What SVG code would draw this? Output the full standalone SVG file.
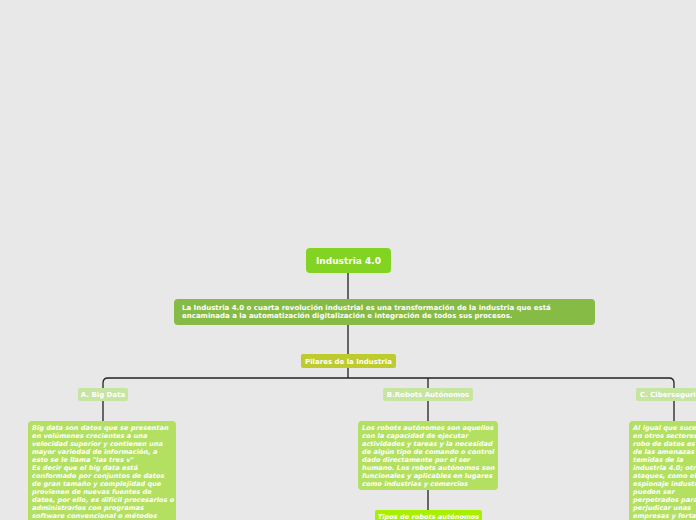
<svg xmlns="http://www.w3.org/2000/svg" width="696" height="520" viewBox="0 0 696 520">
<style>
text{font-family:"DejaVu Sans",Verdana,sans-serif;font-weight:bold;fill:#fff}
.s{font-size:7px}
.i{font-size:6.6px;font-style:italic}
.c{stroke:#222;stroke-width:1.3;fill:none}
</style>
<rect width="696" height="520" fill="#e8e8e8"/>
<g id="connectors">
<path class="c" d="M348 273V299M348 325V354M348 368V378M103 388V383Q103 378 108 378H669Q674 378 674 383V388M428 378V388M103 401V421M428 401V421M674 401V421M428 490V510"/>
</g>
<g id="n-root"><rect x="306" y="248" width="85" height="25" rx="4" fill="#82d322"/><text x="348.5" y="264" text-anchor="middle" font-size="9">Industria 4.0</text></g>
<g id="n-desc"><rect x="174" y="299" width="421" height="26" rx="4" fill="#86bb45"/><text class="s" x="182" y="310">La Industria 4.0 o cuarta revolución industrial es una transformación de la industria que está</text><text class="s" x="182" y="318">encaminada a la automatización digitalización e integración de todos sus procesos.</text></g>
<g id="n-pilares"><rect x="301" y="354" width="95" height="14" rx="2" fill="#bdcb2f"/><text class="s" x="348.5" y="363.5" text-anchor="middle">Pilares de la Industria</text></g>
<g id="n-bigdata"><rect x="78" y="388" width="50" height="13" rx="2" fill="#c5e5a0"/><text class="s" x="103" y="397" text-anchor="middle">A. Big Data</text></g>
<g id="n-robots"><rect x="383" y="388" width="90" height="13" rx="2" fill="#c5e5a0"/><text class="s" x="428" y="397" text-anchor="middle">B.Robots Autónomos</text></g>
<g id="n-ciber"><rect x="636" y="388" width="80" height="13" rx="2" fill="#c5e5a0"/><text class="s" x="640" y="397">C. Ciberseguridad</text></g>
<g id="n-bigdata-text"><rect x="28" y="421" width="148" height="110" rx="4" fill="#b3e061"/>
<text class="i" x="32" y="430">Big data son datos que se presentan</text>
<text class="i" x="32" y="438">en volúmenes crecientes a una</text>
<text class="i" x="32" y="446">velocidad superior y contienen una</text>
<text class="i" x="32" y="454">mayor variedad de información, a</text>
<text class="i" x="32" y="462">esto se le llama "las tres v"</text>
<text class="i" x="32" y="470">Es decir que el big data está</text>
<text class="i" x="32" y="478">conformado por conjuntos de datos</text>
<text class="i" x="32" y="486">de gran tamaño y complejidad que</text>
<text class="i" x="32" y="494">provienen de nuevas fuentes de</text>
<text class="i" x="32" y="502">datos, por ello, es difícil procesarlos o</text>
<text class="i" x="32" y="510">administrarlos con programas</text>
<text class="i" x="32" y="518">software convencional o métodos</text>
</g>
<g id="n-robots-text"><rect x="358" y="421" width="140" height="69" rx="4" fill="#b3e061"/>
<text class="i" x="362" y="430">Los robots autónomos son aquellos</text>
<text class="i" x="362" y="438">con la capacidad de ejecutar</text>
<text class="i" x="362" y="446">actividades y tareas y la necesidad</text>
<text class="i" x="362" y="454">de algún tipo de comando o control</text>
<text class="i" x="362" y="462">dado directamente por el ser</text>
<text class="i" x="362" y="470">humano. Los robots autónomos son</text>
<text class="i" x="362" y="478">funcionales y aplicables en lugares</text>
<text class="i" x="362" y="486">como industrias y comercios</text>
</g>
<g id="n-tipos"><rect x="375" y="510" width="107" height="16" rx="2" fill="#a6f000"/><text class="i" x="428.5" y="519" text-anchor="middle">Tipos de robots autónomos</text></g>
<g id="n-ciber-text"><rect x="629" y="421" width="90" height="110" rx="4" fill="#b3e061"/>
<text class="i" x="633" y="430">Al igual que sucede</text>
<text class="i" x="633" y="438">en otros sectores, el</text>
<text class="i" x="633" y="446">robo de datos es una</text>
<text class="i" x="633" y="454">de las amenazas más</text>
<text class="i" x="633" y="462">temidas de la</text>
<text class="i" x="633" y="470">industria 4.0; otros</text>
<text class="i" x="633" y="478">ataques, como el</text>
<text class="i" x="633" y="486">espionaje industrial</text>
<text class="i" x="633" y="494">pueden ser</text>
<text class="i" x="633" y="502">perpetrados para</text>
<text class="i" x="633" y="510">perjudicar unas</text>
<text class="i" x="633" y="518">empresas y fortalecer</text>
</g>
</svg>
